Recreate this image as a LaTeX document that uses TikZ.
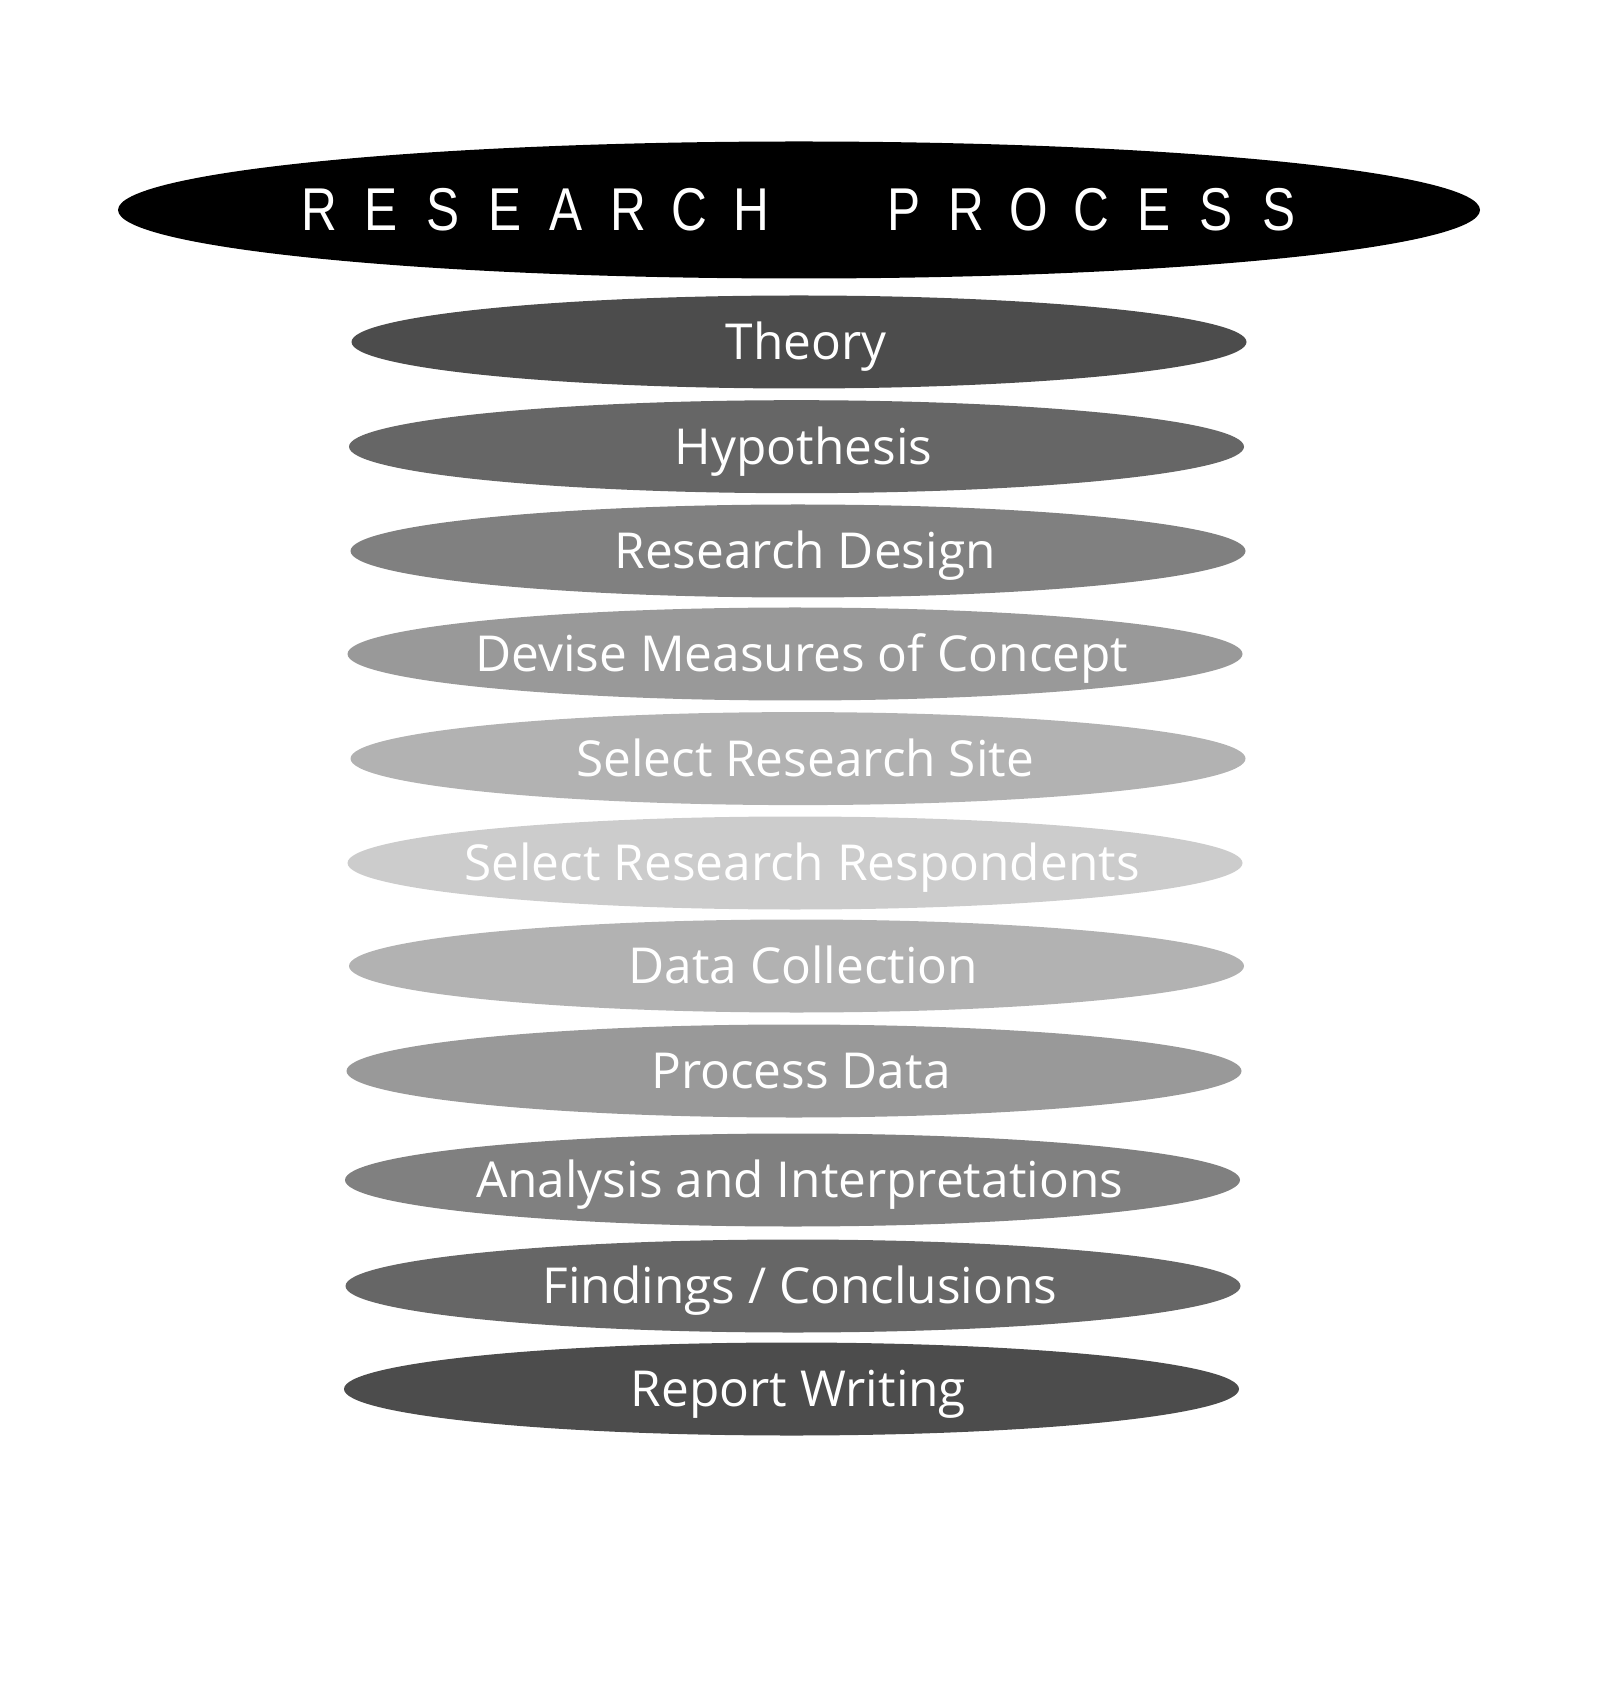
\documentclass[tikz,border=0pt]{standalone}
\usepackage{fontspec}
\setmainfont{Open Sans}
\newfontfamily\titlefont[FakeStretch=0.82]{Liberation Sans}
\usetikzlibrary{shapes.geometric}
\tikzset{
  banner/.style={ellipse, fill=black, minimum width=13.62cm, minimum height=1.37cm, inner sep=0pt},
  letter/.style={text=white, inner sep=0pt, font=\titlefont\fontsize{17.2}{20}\selectfont},
  stage/.style={ellipse, minimum width=8.95cm, minimum height=0.93cm, inner sep=0pt},
  stagetext/.style={text=white, inner sep=0pt, text height=10pt, text depth=0pt,
                    font=\fontsize{14.1}{17}\selectfont}
}
\begin{document}
\begin{tikzpicture}
\useasboundingbox (0,0) rectangle (16,-16.9);
% title
\node[banner] (banner) at (7.99,-2.10) {};
\foreach \ch [count=\i from 0] in {R,E,S,E,A,R,C,H}
  \node[letter] (research-\i) at (3.196+0.617*\i,-2.10) {\ch};
\foreach \ch [count=\i from 0] in {P,R,O,C,E,S,S}
  \node[letter] (process-\i) at (9.036+0.625*\i,-2.10) {\ch};
% steps
\foreach \name/\txt/\shade/\x/\y in {
    theory/Theory/70/7.99/3.42,
    hypothesis/Hypothesis/60/7.965/4.467,
    design/Research Design/50/7.98/5.51,
    measures/Devise Measures of Concept/40/7.95/6.54,
    site/Select Research Site/30/7.98/7.586,
    respondents/Select Research Respondents/20/7.95/8.63,
    collection/Data Collection/30/7.965/9.66,
    process/Process Data/40/7.94/10.71,
    analysis/Analysis and Interpretations/50/7.925/11.80,
    findings/{Findings / Conclusions}/60/7.93/12.86,
    report/Report Writing/70/7.915/13.89} {
  \node[stage, fill=black!\shade] (\name) at (\x,-\y) {};
  \node[stagetext] (\name-text) at ([xshift=0.07cm]\name.center) {\txt};
}
\end{tikzpicture}
\end{document}
